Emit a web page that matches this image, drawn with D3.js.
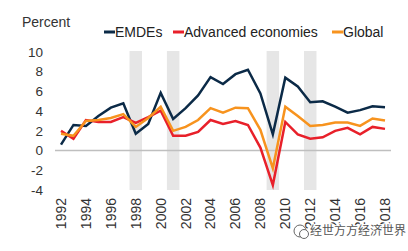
<!DOCTYPE html>
<html>
<head>
<meta charset="utf-8">
<script src="https://cdn.jsdelivr.net/npm/d3@7"></script>
<style>
  body { margin: 0; background: #fff; }
  svg { display: block; font-family: "Liberation Sans", Arial, sans-serif; }
</style>
</head>
<body>
<div id="chart"></div>
<script>
// Chart data
const years = d3.range(1992, 2019);
const emdes = [0.6, 2.6, 2.5, 3.5, 4.35, 4.8, 1.7, 2.7, 5.85, 3.2, 4.3, 5.6, 7.45, 6.75, 7.75, 8.2, 5.8, 1.65, 7.4, 6.5, 4.9, 5.0, 4.45, 3.85, 4.1, 4.5, 4.4];
const advanced = [2.0, 1.2, 3.1, 2.9, 2.9, 3.4, 2.8, 3.4, 4.05, 1.5, 1.5, 1.9, 3.1, 2.7, 3.0, 2.6, 0.3, -3.5, 2.9, 1.65, 1.2, 1.35, 2.0, 2.3, 1.65, 2.4, 2.2];
const global = [1.7, 1.5, 3.0, 3.1, 3.3, 3.7, 2.4, 3.3, 4.45, 2.0, 2.4, 3.1, 4.3, 3.85, 4.35, 4.3, 2.1, -1.8, 4.45, 3.5, 2.5, 2.6, 2.85, 2.85, 2.5, 3.25, 3.05];
const recessions = [1998, 2001, 2009, 2012];
const yTicks = [-4, -2, 0, 2, 4, 6, 8, 10];
const xTicks = d3.range(1992, 2019, 2);

const seriesList = [
    { name: "EMDEs", values: emdes, color: "#0b2a47" },
    { name: "Advanced economies", values: advanced, color: "#e8202a" },
    { name: "Global", values: global, color: "#f7931e" }
];

const width = 408;
const height = 251;

const x = d3.scaleLinear().domain([1992, 2018]).range([61, 385]);
const y = d3.scaleLinear().domain([-4, 10]).range([190, 52]);

const svg = d3.select("#chart").append("svg")
    .attr("width", width)
    .attr("height", height);

// Shaded bands
svg.append("g")
    .selectAll("rect")
    .data(recessions)
    .join("rect")
    .attr("x", d => x(d - 0.5))
    .attr("width", x(1) - x(0))
    .attr("y", y(10) - 1)
    .attr("height", y(-4) - y(10) + 1)
    .attr("fill", "#e6e6e6");

// Zero line
svg.append("line")
    .attr("x1", 55).attr("x2", 391)
    .attr("y1", y(0)).attr("y2", y(0))
    .attr("stroke", "#bfbfbf")
    .attr("stroke-width", 1.5);

// Y axis labels
svg.append("g")
    .selectAll("text")
    .data(yTicks)
    .join("text")
    .attr("x", 43)
    .attr("y", d => y(d))
    .attr("dy", "0.35em")
    .attr("text-anchor", "end")
    .attr("font-size", 13.5)
    .attr("fill", "#333")
    .text(d => d);

// X axis labels (rotated)
svg.append("g")
    .selectAll("text")
    .data(xTicks)
    .join("text")
    .attr("transform", d => `translate(${x(d)},198) rotate(-90)`)
    .attr("dy", "0.35em")
    .attr("text-anchor", "end")
    .attr("font-size", 14)
    .attr("fill", "#333")
    .text(d => d);

// Lines
const line = d3.line()
    .x((d, i) => x(years[i]))
    .y(d => y(d));

svg.append("g")
    .selectAll("path")
    .data(seriesList)
    .join("path")
    .attr("d", d => line(d.values))
    .attr("fill", "none")
    .attr("stroke", d => d.color)
    .attr("stroke-width", 2.5)
    .attr("stroke-linejoin", "miter");

// "Percent" label
svg.append("text")
    .attr("x", 22)
    .attr("y", 27)
    .attr("font-size", 14)
    .attr("fill", "#333")
    .text("Percent");

// Legend
const legendX = [104, 173, 332];
const legend = svg.append("g")
    .selectAll("g")
    .data(seriesList)
    .join("g")
    .attr("transform", (d, i) => `translate(${legendX[i]},32)`);

legend.append("line")
    .attr("x1", 0).attr("x2", 11)
    .attr("y1", 0).attr("y2", 0)
    .attr("stroke", d => d.color)
    .attr("stroke-width", 3);

legend.append("text")
    .attr("x", 11)
    .attr("dy", "0.35em")
    .attr("font-size", 14)
    .attr("fill", "#222")
    .text(d => d.name);

// Watermark
const wm = svg.append("g").attr("transform", "translate(300,231)");
wm.append("circle").attr("cx", 0).attr("cy", 0).attr("r", 6)
    .attr("fill", "none").attr("stroke", "#666").attr("stroke-width", 1);
wm.append("circle").attr("cx", 4).attr("cy", 3).attr("r", 4.5)
    .attr("fill", "#fff").attr("stroke", "#666").attr("stroke-width", 1);
wm.append("text")
    .attr("x", 10)
    .attr("dy", "0.35em")
    .attr("font-size", 12)
    .attr("font-family", "Noto Sans CJK SC")
    .attr("fill", "#555")
    .attr("stroke", "#fff")
    .attr("stroke-width", 2)
    .attr("paint-order", "stroke")
    .text("经世方方经济世界");
</script>
</body>
</html>
